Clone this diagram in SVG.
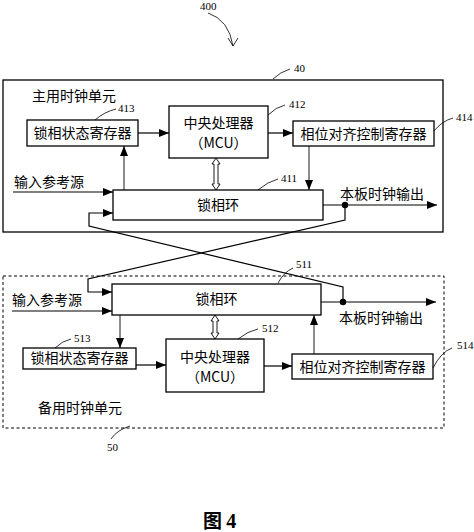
<svg xmlns="http://www.w3.org/2000/svg" width="474" height="532" viewBox="0 0 474 532">
<defs>
<marker id="ah" viewBox="0 0 10 8" refX="10" refY="4" markerWidth="10" markerHeight="8" markerUnits="userSpaceOnUse" orient="auto">
<path d="M0,0 L10,4 L0,8 Z" fill="#000"/>
</marker>
<style>
.box{fill:#fff;stroke:#000;stroke-width:1.3}
.cn{font-family:"Noto Sans CJK SC","Noto Sans",sans-serif;font-size:14px;fill:#000}
.num{font-family:"Liberation Serif",serif;font-size:11px;fill:#000}
.ln{fill:none;stroke:#000;stroke-width:1.2}
.thin{fill:none;stroke:#000;stroke-width:0.9}
.lead{fill:none;stroke:#000;stroke-width:0.8}
</style>
</defs>
<rect width="474" height="532" fill="#fff"/>

<!-- 400 label -->
<g id="label400">
<text class="num" x="200" y="10">400</text>
<path class="lead" d="M208,13 Q229,20 233,46"/>
<path class="lead" d="M228,38 L233,46 L238,38"/>
</g>

<!-- unit 40 -->
<g id="unit40">
<rect x="3" y="80" width="440" height="152" fill="none" stroke="#000" stroke-width="1.3"/>
<text class="cn" x="32" y="101">主用时钟单元</text>
<path class="lead" d="M273,79 Q280,72 290,69"/>
<text class="num" x="294" y="72">40</text>
</g>

<g id="n413">
<rect class="box" x="27" y="120" width="111" height="26"/>
<text class="cn" x="82.5" y="138" text-anchor="middle">锁相状态寄存器</text>
<path class="lead" d="M95,120 Q104,112 116,109"/>
<text class="num" x="118" y="112">413</text>
</g>

<g id="n412">
<rect class="box" x="169" y="106" width="99" height="52"/>
<text class="cn" x="218.5" y="128" text-anchor="middle">中央处理器</text>
<text class="cn" x="218.5" y="148" text-anchor="middle">（MCU）</text>
<path class="lead" d="M268,115 Q276,107 285,105"/>
<text class="num" x="289" y="108">412</text>
</g>

<g id="n414">
<rect class="box" x="293" y="121" width="141" height="25"/>
<text class="cn" x="363.5" y="139" text-anchor="middle">相位对齐控制寄存器</text>
<path class="lead" d="M434,131 Q442,121 453,118"/>
<text class="num" x="456" y="121">414</text>
</g>

<g id="n411">
<rect class="box" x="113" y="190" width="210" height="30"/>
<text class="cn" x="218" y="210" text-anchor="middle">锁相环</text>
<path class="lead" d="M258,190 Q267,182 278,179"/>
<text class="num" x="281" y="182">411</text>
</g>

<g id="t_in1"><text class="cn" x="14" y="187">输入参考源</text></g>
<g id="t_out1"><text class="cn" x="340" y="199">本板时钟输出</text></g>

<!-- unit 50 -->
<g id="unit50">
<rect x="3" y="276" width="441" height="152" fill="none" stroke="#000" stroke-width="1" stroke-dasharray="3,2.5"/>
<text class="cn" x="38" y="413">备用时钟单元</text>
<path class="lead" d="M111,439 Q117,430 130,426"/>
<text class="num" x="107" y="451">50</text>
</g>

<g id="n511">
<rect class="box" x="112" y="284" width="209" height="31"/>
<text class="cn" x="216.5" y="304" text-anchor="middle">锁相环</text>
<path class="lead" d="M278,283 Q284,272 293,268"/>
<text class="num" x="296" y="268">511</text>
</g>

<g id="n513">
<rect class="box" x="23" y="348" width="113" height="21"/>
<text class="cn" x="79.5" y="363" text-anchor="middle">锁相状态寄存器</text>
<path class="lead" d="M55,348 Q62,341 71,339"/>
<text class="num" x="74" y="342">513</text>
</g>

<g id="n512">
<rect class="box" x="166" y="339" width="98" height="53"/>
<text class="cn" x="215" y="362" text-anchor="middle">中央处理器</text>
<text class="cn" x="215" y="382" text-anchor="middle">（MCU）</text>
<path class="lead" d="M238,339 Q248,331 258,329"/>
<text class="num" x="262" y="332">512</text>
</g>

<g id="n514">
<rect class="box" x="292" y="354" width="141" height="25"/>
<text class="cn" x="362.5" y="372" text-anchor="middle">相位对齐控制寄存器</text>
<path class="lead" d="M433,368 Q441,352 452,348"/>
<text class="num" x="457" y="349">514</text>
</g>

<g id="t_in2"><text class="cn" x="12" y="305">输入参考源</text></g>
<g id="t_out2"><text class="cn" x="339" y="323">本板时钟输出</text></g>

<g id="fig"><text x="203" y="528" style="font-family:'Noto Sans CJK SC','Liberation Serif',serif;font-size:19px;font-weight:bold">图 <tspan style="font-family:'Liberation Serif',serif;font-size:20px">4</tspan></text></g>

<!-- connectors -->
<g id="connectors">
<!-- upper -->
<line class="ln" x1="138" y1="133" x2="169" y2="133" marker-end="url(#ah)"/>
<line class="ln" x1="268" y1="133" x2="293" y2="133" marker-end="url(#ah)"/>
<line class="thin" x1="124" y1="190" x2="124" y2="146" marker-end="url(#ah)"/>
<line class="thin" x1="309" y1="146" x2="309" y2="190" marker-end="url(#ah)"/>
<path class="thin" d="M216,158 L220,164 L218,164 L218,184 L220,184 L216,190 L212,184 L214,184 L214,164 L212,164 Z" fill="#fff"/>
<line class="ln" x1="13" y1="192" x2="113" y2="192" marker-end="url(#ah)"/>
<line class="ln" x1="323" y1="205" x2="437" y2="205" marker-end="url(#ah)"/>
<circle cx="345" cy="205" r="3.2" fill="#000"/>
<!-- cross connections -->
<polyline class="ln" points="345,205 345,220 88,279 88,292 112,292" marker-end="url(#ah)"/>
<polyline class="ln" points="343,302 343,287 89,226 89,213 113,213" marker-end="url(#ah)"/>
<!-- lower -->
<line class="ln" x1="12" y1="311" x2="112" y2="311" marker-end="url(#ah)"/>
<line class="ln" x1="321" y1="302" x2="436" y2="302" marker-end="url(#ah)"/>
<circle cx="343" cy="302" r="3.2" fill="#000"/>
<line class="thin" x1="120" y1="315" x2="120" y2="348" marker-end="url(#ah)"/>
<line class="thin" x1="314" y1="354" x2="314" y2="315" marker-end="url(#ah)"/>
<path class="thin" d="M215,315 L219,321 L217,321 L217,333 L219,333 L215,339 L211,333 L213,333 L213,321 L211,321 Z" fill="#fff"/>
<line class="ln" x1="136" y1="365" x2="166" y2="365" marker-end="url(#ah)"/>
<line class="ln" x1="264" y1="366" x2="292" y2="366" marker-end="url(#ah)"/>
</g>
</svg>
